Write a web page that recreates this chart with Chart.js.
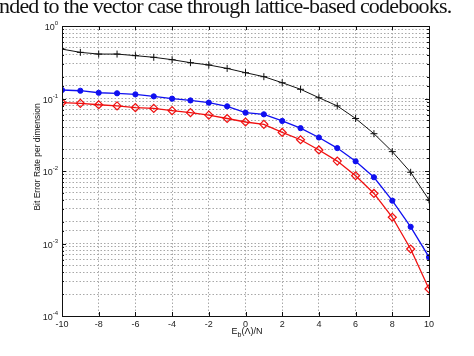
<!DOCTYPE html>
<html>
<head>
<meta charset="utf-8">
<script src="https://cdn.jsdelivr.net/npm/chart.js@4.4.1/dist/chart.umd.min.js"></script>
<style>
  html, body { margin: 0; padding: 0; background: #fff; }
  #wrap { position: relative; width: 474px; height: 356px; overflow: hidden; background: #fff; }
  #cap { position: absolute; left: -1px; top: -5px; white-space: nowrap; font-family: 'Liberation Serif', 'Times New Roman', serif; font-size: 22px; letter-spacing: -0.8px; line-height: 22px; color: #111; }
  canvas { position: absolute; left: 0; top: 0; }
</style>
</head>
<body>
<div id="wrap">
  <canvas id="c" width="474" height="356"></canvas>
  <div id="cap">nded to the vector case through lattice-based codebooks.</div>
</div>
<script>
const categories = [-10,-9,-8,-7,-6,-5,-4,-3,-2,-1,0,1,2,3,4,5,6,7,8,9,10];
const seriesBlack = [0.48,0.433,0.41,0.41,0.39,0.37,0.343,0.312,0.29,0.26,0.227,0.2,0.165,0.134,0.1026,0.079,0.053,0.0327,0.0185,0.0096,0.004];
const seriesBlue  = [0.131,0.128,0.12,0.118,0.114,0.107,0.0995,0.094,0.0877,0.078,0.0638,0.0605,0.049,0.039,0.029,0.0207,0.0136,0.0082,0.0039,0.0017,0.00065];
const seriesRed   = [0.0877,0.0858,0.082,0.079,0.0748,0.073,0.068,0.0638,0.059,0.053,0.0474,0.044,0.034,0.027,0.0195,0.0137,0.0086,0.0049,0.0023,0.00084,0.000236];
const xTickLabels = ['-10','-8','-6','-4','-2','0','2','4','6','8','10'];
const yTickExponents = {'1':'0','0.1':'-1','0.01':'-2','0.001':'-3','0.0001':'-4'};
const xTitle = ['E', 'b', '(\u039B)/N'];
const yTitle = 'Bit Error Rate per dimension';

function pts(arr){ return categories.map((x,i)=>({x:x, y:arr[i]})); }

const SANS = '"Liberation Sans", Arial, sans-serif';

const frame = {
  id: 'frame',
  afterDraw(chart) {
    const ctx = chart.ctx, a = chart.chartArea;
    const xs = chart.scales.x, ys = chart.scales.y;
    ctx.save();
    ctx.strokeStyle = '#111';
    ctx.lineWidth = 1;
    ctx.setLineDash([]);
    ctx.strokeRect(Math.round(a.left)+0.5, Math.round(a.top)+0.5, Math.round(a.right-a.left), Math.round(a.bottom-a.top));
    ctx.beginPath();
    xs.ticks.forEach(t => {
      const px = Math.round(xs.getPixelForValue(t.value))+0.5;
      ctx.moveTo(px, a.bottom); ctx.lineTo(px, a.bottom-4);
      ctx.moveTo(px, a.top); ctx.lineTo(px, a.top+4);
    });
    ys.ticks.forEach(t => {
      const py = Math.round(ys.getPixelForValue(t.value))+0.5;
      const lg = Math.log10(t.value);
      const len = Math.abs(lg - Math.round(lg)) < 1e-6 ? 4 : 2;
      ctx.moveTo(a.left, py); ctx.lineTo(a.left+len, py);
      ctx.moveTo(a.right, py); ctx.lineTo(a.right-len, py);
    });
    ctx.stroke();
    ctx.fillStyle = '#222';
    // y tick labels: 10 with superscript exponent
    ys.ticks.forEach(t => {
      const e = yTickExponents[String(t.value)];
      if (e === undefined) return;
      const py = ys.getPixelForValue(t.value);
      ctx.textBaseline = 'alphabetic';
      ctx.font = '6px ' + SANS;
      const ew = ctx.measureText(e).width;
      ctx.font = '9px ' + SANS;
      const bw = ctx.measureText('10').width;
      const right = 58;
      ctx.fillText('10', right - ew - bw, py + 4);
      ctx.font = '6px ' + SANS;
      ctx.fillText(e, right - ew, py - 1);
    });
    // axis titles
    ctx.fillStyle = '#111';
    ctx.textBaseline = 'alphabetic';
    ctx.font = '9px ' + SANS;
    const w0 = ctx.measureText(xTitle[0]).width;
    ctx.font = '7px ' + SANS;
    const w1 = ctx.measureText(xTitle[1]).width;
    ctx.font = '9px ' + SANS;
    const w2 = ctx.measureText(xTitle[2]).width;
    let x0 = 247 - (w0+w1+w2)/2, by = 334;
    ctx.fillText(xTitle[0], x0, by);
    ctx.font = '7px ' + SANS;
    ctx.fillText(xTitle[1], x0+w0, by+3);
    ctx.font = '9px ' + SANS;
    ctx.fillText(xTitle[2], x0+w0+w1, by);
    ctx.save();
    ctx.translate(40, 157);
    ctx.rotate(-Math.PI/2);
    ctx.textAlign = 'center';
    ctx.font = '8.5px ' + SANS;
    ctx.fillText(yTitle, 0, 0);
    ctx.restore();
    ctx.restore();
  }
};

new Chart(document.getElementById('c'), {
  type: 'line',
  data: {
    datasets: [
      { data: pts(seriesBlack), borderColor: '#111', backgroundColor: '#111', borderWidth: 1, pointStyle: 'cross', pointRadius: 3.5, pointBorderWidth: 1, tension: 0 },
      { data: pts(seriesBlue), borderColor: '#1010f0', backgroundColor: '#1010f0', borderWidth: 1.3, pointStyle: 'circle', pointRadius: 2.6, pointBorderWidth: 1, tension: 0 },
      { data: pts(seriesRed), borderColor: '#f01010', backgroundColor: 'rgba(255,255,255,0)', borderWidth: 1.3, pointStyle: 'rectRot', pointRadius: 4, pointBorderWidth: 1.2, tension: 0 }
    ]
  },
  options: {
    responsive: false,
    animation: false,
    devicePixelRatio: 1,
    layout: { padding: { left: 0, top: 26, right: 45, bottom: 0 } },
    plugins: { legend: { display: false }, tooltip: { enabled: false } },
    scales: {
      x: {
        type: 'linear', min: -10, max: 10,
        border: { display: false, dash: [1.5, 2] },
        grid: { color: '#a8a8a8', drawTicks: false, lineWidth: 1 },
        ticks: { stepSize: 2, padding: 3, color: '#222', font: { family: SANS, size: 9 },
          callback: (v) => xTickLabels.includes(String(v)) ? String(v) : '' },
        afterFit: (s) => { s.height = 40; }
      },
      y: {
        type: 'logarithmic', min: 1e-4, max: 1,
        border: { display: false, dash: [1.5, 2] },
        grid: { color: '#a8a8a8', drawTicks: false, lineWidth: 1 },
        ticks: { autoSkip: false, display: false },
        afterFit: (s) => { s.width = 62; }
      }
    }
  },
  plugins: [frame]
});
</script>
</body>
</html>
